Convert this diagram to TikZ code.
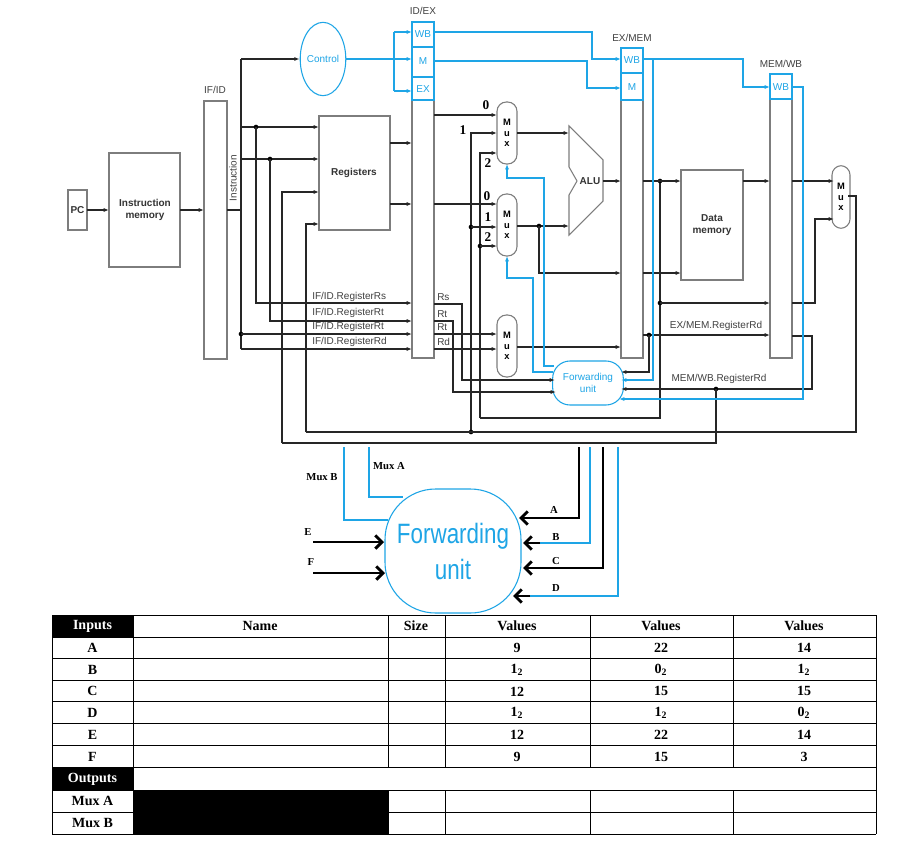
\documentclass[tikz,border=0pt]{standalone}
\usepackage{fontspec}
\setmainfont{Liberation Serif}
\newfontfamily\ar{Liberation Sans}
\usetikzlibrary{arrows.meta,shapes.geometric}
\definecolor{bl}{RGB}{30,165,230}
\definecolor{gr}{RGB}{125,125,125}
\begin{document}
\begin{tikzpicture}[x=0.75pt,y=-0.75pt,
 w/.style={line width=0.9pt,black!85},
 a/.style={w,-{Latex[length=4pt,width=3pt]}},
 bw/.style={line width=0.9pt,bl},
 ba/.style={bw,-{Latex[length=4pt,width=3pt]}},
 box/.style={draw=gr,line width=0.8pt},
 bbox/.style={draw=bl,line width=0.8pt},
 lab/.style={font=\ar\fontsize{7.5}{8}\selectfont,text=black!75,inner sep=0},
 blab/.style={font=\ar\fontsize{7.5}{8}\selectfont,text=bl,inner sep=0},
 bold/.style={font=\ar\bfseries\fontsize{7.5}{9}\selectfont,text=black!80,inner sep=0,align=center},
 dot/.style={circle,fill=black,inner sep=0,minimum size=3.5pt},
 num/.style={font=\bfseries\fontsize{10}{10}\selectfont,inner sep=0},
 mux/.style={draw=gr,line width=0.8pt,rounded corners=7pt,minimum width=15pt,minimum height=46.5pt,inner sep=0,align=center,font=\ar\bfseries\fontsize{7}{8}\selectfont},
 tk/.style={line width=2.2pt,black},
 ta/.style={tk,-{Straight Barb[length=5pt,width=10pt]}},
 sl/.style={font=\bfseries\fontsize{8}{9}\selectfont,inner sep=0},
 tt/.style={font=\bfseries\fontsize{10.5}{12}\selectfont,inner sep=0}]
\useasboundingbox[fill=white] (0,0) rectangle (920,842);

% ---- boxes
\draw[box] (68,190) rectangle (87,230); \node[bold] (pc) at (77.5,210) {PC};
\draw[box] (109,153) rectangle (180,267); \node[bold] (im) at (145,210) {Instruction\\memory};
\draw[box] (204,101) rectangle (227,359); \node[lab] (ifid) at (215,90) {IF/ID};
\node[lab,rotate=90] (instr) at (233,178) {Instruction};
\draw[box] (319,116) rectangle (390,230); \node[bold] (regs) at (354,173) {Registers};
\draw[box] (412,100) rectangle (434,358);
\draw[bbox] (412,22) rectangle (434,47); \node[blab] (idwb) at (423,34) {WB};
\draw[bbox] (412,47) rectangle (434,77); \node[blab] (idm) at (423,61) {M};
\draw[bbox] (412,77) rectangle (434,100); \node[blab] (idex) at (423,89) {EX};
\node[lab] (idexl) at (423,11) {ID/EX};
\draw[box] (621,100) rectangle (643,358);
\draw[bbox] (621,48) rectangle (643,73); \node[blab] (exwb) at (632,60) {WB};
\draw[bbox] (621,73) rectangle (643,100); \node[blab] (exm) at (632,87) {M};
\node[lab] (exmeml) at (632,38) {EX/MEM};
\draw[box] (770,99) rectangle (792,358);
\draw[bbox] (770,74) rectangle (792,99); \node[blab] (mwwb) at (781,87) {WB};
\node[lab] (memwbl) at (781,64) {MEM/WB};
\draw[box] (681,170) rectangle (743,280); \node[bold] (dm) at (712,225) {Data\\memory};
\node[draw=bl,line width=0.8pt,ellipse,minimum width=33pt,minimum height=55pt,inner sep=0,blab] (ctrl) at (323,59) {Control};
\draw[box] (569,126)--(603,160)--(603,201)--(569,235)--(569,195)--(577,181)--(569,167)--cycle;
\node[bold] (alu) at (590,181) {ALU};
\node[mux] (m1) at (507,133) {M\\u\\x};
\node[mux] (m2) at (507,225) {M\\u\\x};
\node[mux] (m3) at (507,346) {M\\u\\x};
\node[mux,minimum width=13.5pt,minimum height=47pt] (m4) at (841,197) {M\\u\\x};
\node[draw=bl,line width=0.8pt,rounded corners=13pt,minimum width=53pt,minimum height=33pt,inner sep=0,align=center,font=\ar\fontsize{7.5}{9}\selectfont,text=bl] (fu) at (588,383) {Forwarding\\unit};

% labels
\foreach \t/\y in {Rs/297,Rt/314,Rt/327,Rd/342}{\node[lab,anchor=west] at (437,\y) {\t};}
\node[lab,anchor=west] (l1) at (312,297) {IF/ID.RegisterRs};
\node[lab,anchor=west] (l2) at (312,313) {IF/ID.RegisterRt};
\node[lab,anchor=west] (l3) at (312,327) {IF/ID.RegisterRt};
\node[lab,anchor=west] (l4) at (312,342) {IF/ID.RegisterRd};
\node[lab] (l5) at (716,326) {EX/MEM.RegisterRd};
\node[lab] (l6) at (719,379) {MEM/WB.RegisterRd};
\node[num] at (486,105) {0}; \node[num] at (463,130) {1}; \node[num] at (488,163) {2};
\node[num] at (487,196) {0}; \node[num] at (488,217) {1}; \node[num] at (488,237) {2};

% ---- black wiring
\draw[a] (87,210)--(109,210);
\draw[a] (180,210)--(204,210);
\draw[w] (227,210)--(241,210);
\draw[w] (241,349)--(241,59); \draw[a] (241,59)--(ctrl.west);
\draw[a] (241,127)--(319,127); \node[dot] at (256,127) {};
\draw[a] (256,127)--(256,303)--(412,303);
\draw[a] (241,159)--(319,159); \node[dot] at (270,159) {};
\draw[a] (270,159)--(270,321)--(412,321);
\node[dot] at (241,334) {};
\draw[a] (241,334)--(412,334); \draw[a] (241,349)--(412,349);
\draw[a] (282,443)--(282,192)--(319,192);
\draw[a] (306,432)--(306,224)--(319,224);
\draw[a] (390,143)--(412,143); \draw[a] (390,204)--(412,204);
\draw[a] (434,115)--(497,115); \draw[a] (434,204)--(497,204);
\draw[a] (471,432)--(471,133)--(497,133); \node[dot] at (471,227) {}; \draw[a] (471,227)--(497,227);
\node[dot] at (471,432) {};
\draw[a] (480,418)--(480,153)--(497,153); \node[dot] at (480,246) {}; \draw[a] (480,246)--(497,246);
\draw[w] (480,418)--(660,418)--(660,181); \node[dot] at (660,181) {}; \node[dot] at (660,303) {};
\draw[a] (517,133)--(569,133); \draw[a] (517,226)--(569,226);
\node[dot] at (539,226) {}; \draw[a] (539,226)--(539,273)--(621,273);
\draw[a] (517,347)--(621,347);
\draw[a] (434,334)--(497,334); \draw[a] (434,349)--(497,349);
\draw[a] (434,304)--(462,304)--(462,380)--(555,380);
\draw[a] (434,321)--(453,321)--(453,392)--(556,392);
\draw[a] (603,181)--(621,181);
\draw[a] (643,181)--(681,181); \draw[a] (643,273)--(681,273);
\draw[a] (660,303)--(770,303); \draw[a] (643,335)--(770,335);
\node[dot] at (649,335) {}; \draw[a] (649,335)--(649,372)--(621,372);
\draw[a] (743,181)--(770,181); \draw[a] (792,181)--(834,181);
\draw[a] (792,303)--(815,303)--(815,219)--(834,219);
\draw[a] (792,336)--(812,336)--(812,389)--(621,389);
\node[dot] at (716,389) {}; \draw[w] (716,389)--(716,443)--(282,443);
\draw[w] (848,196)--(856,196)--(856,432)--(306,432);

% ---- blue wiring
\draw[bw] (ctrl.east)--(394,59);
\draw[ba] (394,59)--(412,59); \draw[ba] (394,32)--(412,32); \draw[ba] (394,91)--(412,91);
\draw[bw] (394,32)--(394,91);
\draw[ba] (434,32)--(592,32)--(592,59)--(621,59);
\draw[ba] (434,61)--(587,61)--(587,88)--(621,88);
\draw[ba] (643,59)--(743,59)--(743,87)--(770,87);
\draw[ba] (653,59)--(653,380)--(621,380);
\draw[ba] (792,87)--(803,87)--(803,399)--(619,399);
\draw[ba] (554,366)--(544,366)--(544,178)--(507,178)--(507,164);
\draw[ba] (553,372)--(533,372)--(533,278)--(507,278)--(507,256);

% ---- lower forwarding unit
\node[draw=bl,line width=0.8pt,rounded corners=38pt,minimum width=102pt,minimum height=93pt,inner sep=0,align=center,font=\ar\fontsize{21}{27}\selectfont,text=bl] (bfu) at (453,551) {\scalebox{0.8}[1]{Forwarding}\\\scalebox{0.8}[1]{unit}};
\draw[bl,line width=1.2pt] (344,447)--(344,520)--(388,520);
\draw[bl,line width=1.2pt] (369,447)--(369,497)--(403,497);
\node[sl] (mb) at (322,477) {Mux B};
\node[sl] (ma) at (389,466) {Mux A};
\draw[ta] (579,447)--(579,518)--(519,518);
\draw[line width=1.2pt,bl] (590,447)--(590,543)--(530,543);
\draw[ta] (540,543)--(523,543);
\draw[ta] (603,447)--(603,568)--(523,568);
\draw[line width=1.2pt,bl] (618,447)--(618,596)--(525,596);
\draw[ta] (530,596)--(513,596);
\draw[ta] (313,542)--(384,542);
\draw[ta] (313,573)--(385,573);
\node[sl] (le) at (308,532) {E}; \node[sl] (lf) at (311,562) {F};
\node[sl] (la) at (554,510) {A}; \node[sl] (lb) at (556,537) {B};
\node[sl] (lc) at (556,561) {C}; \node[sl] (ld) at (556,588) {D};

% ---- table
\fill[black] (52,615) rectangle (133,637);
\fill[black] (52,767) rectangle (133,790);
\fill[black] (133,790) rectangle (388,834);
\foreach \y in {615,637,658,680,701,723,745,767,790,812,834}{\draw[line width=0.6pt] (52,\y)--(876,\y);}
\draw[line width=0.6pt] (52,615)--(52,834) (876,615)--(876,834) (133,615)--(133,834);
\foreach \x in {388,445,590,733}{\draw[line width=0.6pt] (\x,615)--(\x,767) (\x,790)--(\x,834);}
\node[tt,text=white] at (92.5,626) {Inputs};
\node[tt] at (260,626) {Name}; \node[tt] at (416,626) {Size};
\node[tt] at (517,626) {Values}; \node[tt] at (661,626) {Values}; \node[tt] at (804,626) {Values};
\foreach \l/\p/\q/\r [count=\i] in {A/9/22/14,B/1\textsubscript{2}/0\textsubscript{2}/1\textsubscript{2},C/12/15/15,D/1\textsubscript{2}/1\textsubscript{2}/0\textsubscript{2},E/12/22/14,F/9/15/3}{
  \pgfmathsetmacro\yy{626+21.8*\i}
  \node[tt] at (92.5,\yy) {\l}; \node[tt] at (517,\yy) {\p};
  \node[tt] at (661,\yy) {\q}; \node[tt] at (804,\yy) {\r};}
\node[tt,text=white] at (92.5,779) {Outputs};
\node[tt] at (92.5,801) {Mux A}; \node[tt] at (92.5,823) {Mux B};
\end{tikzpicture}
\end{document}
